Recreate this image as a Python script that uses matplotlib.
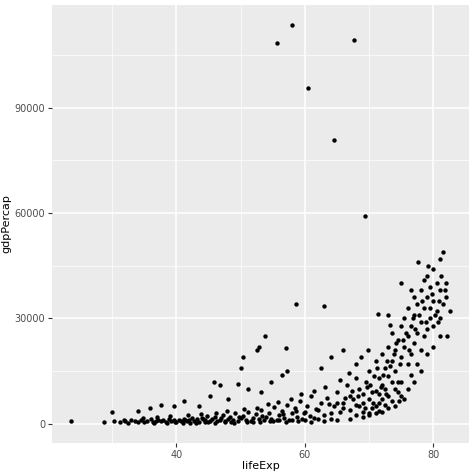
import matplotlib
matplotlib.use('Agg')
import matplotlib.pyplot as plt
from matplotlib.ticker import FixedLocator

# (lifeExp, gdpPercap) pairs, grouped by region of the cloud
low_cloud = [
    (28.8, 600), (30.0, 3500), (30.3, 900), (31.3, 500), (31.9, 1200), (32.0, 700), (32.5, 400),
    (33.0, 1100), (33.6, 800), (34.0, 500), (34.0, 3800), (34.5, 1000), (35.0, 600), (35.5, 900),
    (35.9, 4500), (36.0, 1300), (36.3, 500), (36.8, 800), (37.2, 1100), (37.6, 700), (37.6, 5500),
    (38.0, 1000), (38.4, 500), (38.8, 1400), (39.2, 800), (39.6, 1100), (39.6, 5200), (40.0, 600),
    (40.4, 1200), (40.8, 900), (41.2, 1500), (41.2, 6500), (41.6, 700), (42.0, 1100), (42.4, 1800),
    (42.8, 800), (43.2, 1300), (43.6, 600), (43.6, 5000), (44.0, 1600), (44.4, 1000), (44.8, 2200),
    (45.2, 700), (45.2, 8000), (45.6, 1400), (45.9, 11800), (46.0, 1900), (46.4, 900), (46.8, 1200),
    (46.8, 11000), (47.2, 2500), (47.6, 800), (48.0, 1500), (48.0, 7000), (48.4, 2000), (48.8, 1100),
    (49.2, 3000), (49.6, 900), (49.6, 11500), (50.0, 1600), (50.0, 16000), (50.3, 19000), (50.4, 2400),
    (50.8, 1200), (51.2, 3500), (51.2, 10000), (51.6, 800), (52.0, 1800), (52.4, 2800), (52.5, 21000),
    (52.8, 1300), (52.8, 22000), (53.2, 4000), (53.2, 9000), (53.6, 1000), (53.8, 25000), (54.0, 2100),
    (54.4, 3200), (54.8, 1500), (54.8, 12000), (55.2, 4800), (55.6, 1100), (56.0, 2600), (56.4, 3800),
    (56.4, 14000), (56.8, 1700), (57.2, 5500), (57.0, 21500), (57.6, 1200), (57.3, 15000), (58.0, 3000),
    (58.4, 4500), (58.8, 2000), (59.2, 6500), (59.6, 1400), (60.0, 3500), (60.4, 5000), (60.8, 2300),
    (61.0, 8000), (61.5, 1600), (62.0, 4000), (62.5, 6000), (62.5, 16000), (63.0, 2500), (63.5, 7500),
    (64.0, 3000), (64.5, 5000), (64.0, 19000), (65.0, 9000), (65.5, 3500), (66.0, 6000), (66.0, 21000),
    (66.5, 11000), (67.0, 4000), (67.5, 7000), (68.0, 13000), (68.5, 5000), (69.0, 8500),
]
floor = [
    (38.5, 300), (41.0, 400), (43.0, 350), (44.5, 450), (46.0, 350), (47.5, 500), (49.0, 400),
    (51.0, 600), (53.0, 450), (55.0, 700), (57.0, 550), (59.0, 800), (61.0, 650), (63.0, 900),
    (65.0, 1200), (67.0, 1500), (69.0, 2000), (70.0, 2500), (71.0, 3000), (59.8, 3000),
    (36.5, 350), (39.8, 450), (42.2, 300), (45.0, 550), (48.5, 650), (52.0, 500), (54.5, 900),
    (56.0, 1000), (58.0, 1100), (60.0, 1200), (62.0, 1300), (64.0, 1500),
    (34.8, 1600), (37.0, 2000), (39.0, 2400), (41.8, 2600), (43.8, 2900), (46.2, 3200), (47.9, 3600),
    (50.6, 4200), (52.6, 4500), (54.2, 5800), (55.8, 6200), (57.8, 7000), (59.4, 8500), (61.4, 9500),
    (63.2, 10500), (65.4, 12500), (66.8, 14500), (67.9, 17000), (68.8, 19000), (69.8, 21000),
    (41.4, 1000), (44.2, 1300), (47.0, 1700), (49.8, 2000), (53.4, 2300), (56.6, 2800), (58.6, 3600),
    (61.8, 4200), (63.8, 5600), (66.2, 7500), (67.4, 9500), (68.2, 8000), (69.6, 10500),
]
rising = [
    (65, 6000), (66, 4500), (67, 8000), (68, 5500), (68.5, 10000), (69, 3500), (69.5, 12000),
    (70, 7000), (70, 15000), (70.5, 4500), (71, 9500), (71, 18000), (71.5, 6000), (71.5, 13000),
    (72, 11000), (72, 20000), (72.5, 5500), (72.5, 16000), (73, 8000), (73, 22000), (73, 13500),
    (73.5, 18000), (73.5, 26000), (74, 10000), (74, 15000), (74, 21000), (74.5, 24000), (74.5, 12000),
    (75, 19000), (75, 28000), (75, 8000), (75.5, 22000), (75.5, 30000), (76, 17000), (76, 25000),
    (76, 33000), (76.5, 20000), (76.5, 28000), (77, 23000), (77, 31000), (77, 36000), (77.5, 26000),
    (77.5, 34000), (78, 21000), (78, 29000), (78, 38000), (78.5, 25000), (78.5, 33000), (79, 27000),
    (79, 36000), (79, 42000), (79.5, 30000), (79.5, 39000), (80, 28000), (80, 35000), (80, 44000),
    (80.5, 32000), (80.5, 40000), (81, 30000), (81, 38000), (81, 47000), (81.5, 34000), (81.5, 49000),
    (82, 36000), (82.6, 32000), (82, 40000), (77.6, 46000), (79.2, 45000), (78.5, 41000),
    (76.5, 38000), (72.9, 31000), (71.4, 31354), (73.3, 28118), (75, 40000), (80.7, 29000),
    (82.2, 25000), (68, 2500), (69, 6000), (70, 3000), (70.5, 9000), (71, 5000), (71.5, 8500),
    (72, 3500), (72, 7000), (72.5, 10000), (73, 4500), (73.5, 6500), (74, 5000), (74.5, 9000),
    (75, 12000), (75.5, 7000), (76, 10000), (76.5, 14000), (77, 12000), (77.5, 17000), (78, 15000),
    (79, 20000), (80, 22000), (81, 25000),
    (70.2, 11000), (70.8, 13500), (71.2, 16000), (71.8, 10500), (72.2, 14000), (72.8, 18000),
    (73.2, 16500), (73.8, 20000), (74.2, 23000), (74.8, 17000), (75.2, 24000), (75.8, 26000),
    (76.2, 21000), (76.8, 30000), (77.2, 27000), (77.8, 31000), (78.2, 35000), (78.8, 29000),
    (79.4, 33000), (79.8, 37000), (80.2, 31000), (80.8, 35000), (81.2, 42000), (81.8, 38000),
    (69.4, 4500), (70.6, 6000), (71.6, 3800), (72.6, 8500), (73.6, 12000), (74.6, 6500),
]
outliers = [
    (55.6, 108382), (58.0, 113523), (60.5, 95458), (64.6, 80895), (67.7, 109348),
    (69.3, 59265), (58.6, 34168), (63.0, 33693), (23.6, 738),
]

points = low_cloud + floor + rising + outliers
life_exp = [p[0] for p in points]
gdp_per_cap = [p[1] for p in points]

fig, ax = plt.subplots(figsize=(4.74, 4.74), dpi=100)
ax.set_facecolor('#EBEBEB')
for s in ax.spines.values():
    s.set_visible(False)

ax.scatter(life_exp, gdp_per_cap, s=10, color='black', zorder=3, linewidths=0)

ax.set_xlim(20.65, 85.55)
ax.set_ylim(-5423, 119187)
ax.xaxis.set_major_locator(FixedLocator([40, 60, 80]))
ax.xaxis.set_minor_locator(FixedLocator([30, 50, 70]))
ax.yaxis.set_major_locator(FixedLocator([0, 30000, 60000, 90000]))
ax.yaxis.set_minor_locator(FixedLocator([15000, 45000, 75000, 105000]))
ax.grid(True, which='major', color='white', linewidth=1.1)
ax.grid(True, which='minor', color='white', linewidth=0.5)
ax.set_axisbelow(True)
ax.tick_params(which='major', colors='#333333', labelcolor='#4D4D4D', labelsize=7, length=3, pad=2)
ax.tick_params(which='minor', length=0)

ax.set_xlabel('lifeExp', fontsize=8, labelpad=1)
ax.set_ylabel('gdpPercap', fontsize=8, labelpad=2)

fig.subplots_adjust(left=0.1097, right=0.9895, top=0.9895, bottom=0.0654)
fig.savefig('out.png', facecolor='white')
